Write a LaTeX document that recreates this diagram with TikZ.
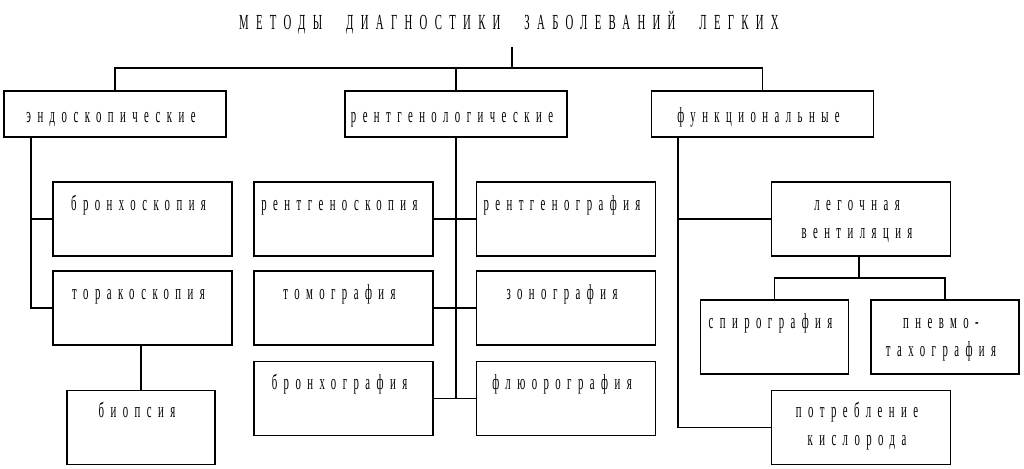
\documentclass[tikz,border=0pt]{standalone}
\usepackage{fontspec}
\newfontfamily\narrowfont{Liberation Serif}[FakeStretch=0.5,LetterSpace=30]
\newfontfamily\titlefont{Liberation Serif}[FakeStretch=0.5,LetterSpace=34,WordSpace=2.4]
\usetikzlibrary{calc}

\begin{document}
\begin{tikzpicture}[x=1pt, y=-1pt,
  box/.style={draw, line width=1.6pt, inner sep=0pt},
  wide/.style={box, minimum width=222pt, minimum height=46pt},
  cell/.style={box, minimum width=179pt, minimum height=74pt},
  small/.style={box, minimum width=148pt, minimum height=74pt},
  txt/.style={font=\narrowfont\fontsize{21.5}{28}\selectfont, inner sep=0pt, anchor=base, xshift=-4pt},
  ln/.style={line width=1.6pt},
]
  \useasboundingbox (0,0) rectangle (1024,468);
  % title
  \node[font=\titlefont\fontsize{21.5}{28}\selectfont, inner sep=0pt, anchor=base] (title) at (509,30) {МЕТОДЫ ДИАГНОСТИКИ ЗАБОЛЕВАНИЙ ЛЕГКИХ};
  % groups
  \node[wide] (endo) at (115,114) {};
  \node[wide] (rent) at (456,114) {};
  \node[wide] (func) at (762.5,114) {};
  \node[txt] (endoT) at ($(endo.center)+(0,8)$) {эндоскопические};
  \node[txt] (rentT) at ($(rent.center)+(0,8)$) {рентгенологические};
  \node[txt] (funcT) at ($(func.center)+(0,8)$) {функциональные};
  % endoscopy
  \node[cell] (bron) at (142.5,219) {};
  \node[cell] (thor) at (142.5,308) {};
  \node[small] (biop) at (141,427.5) {};
  \node[txt] (bronT) at ($(bron.north)+(0,29)$) {бронхоскопия};
  \node[txt] (thorT) at ($(thor.north)+(0,29)$) {торакоскопия};
  \node[txt] (biopT) at ($(biop.north)+(0,28)$) {биопсия};
  % roentgenology
  \node[cell] (rsc) at (343.5,219) {};
  \node[cell] (tomo) at (343.5,308) {};
  \node[cell] (bgr) at (343.5,398.5) {};
  \node[cell] (rgr) at (566,219) {};
  \node[cell] (zono) at (566,308) {};
  \node[cell] (fluo) at (566,398.5) {};
  \node[txt] (rscT) at ($(rsc.north)+(0,29)$) {рентгеноскопия};
  \node[txt] (tomoT) at ($(tomo.north)+(0,29)$) {томография};
  \node[txt] (bgrT) at ($(bgr.north)+(0,29)$) {бронхография};
  \node[txt] (rgrT) at ($(rgr.north)+(0,29)$) {рентгенография};
  \node[txt] (zonoT) at ($(zono.north)+(0,29)$) {зонография};
  \node[txt] (fluoT) at ($(fluo.north)+(0,29)$) {флюорография};
  % functional
  \node[cell] (lung) at (861,219) {};
  \node[small] (spir) at (774.5,337) {};
  \node[small] (pnev) at (945,337) {};
  \node[cell] (oxyg) at (861,427.5) {};
  \node[txt] (lungA) at ($(lung.north)+(0,29)$) {легочная};
  \node[txt] (lungB) at ($(lung.north)+(0,57)$) {вентиляция};
  \node[txt] (spirT) at ($(spir.north)+(0,29)$) {спирография};
  \node[txt] (pnevA) at ($(pnev.north)+(0,29)$) {пневмо-};
  \node[txt] (pnevB) at ($(pnev.north)+(0,57)$) {тахография};
  \node[txt] (oxygA) at ($(oxyg.north)+(0,28)$) {потребление};
  \node[txt] (oxygB) at ($(oxyg.north)+(0,56)$) {кислорода};
  % connectors
  \coordinate (top) at (512,47);
  \coordinate (bus) at (512,68);
  \draw[ln] (top) -- (bus);
  \draw[ln] (endo.north) |- (bus) -| (func.north);
  \draw[ln] (rent.north) -- (rent.north |- bus);
  \coordinate (eL) at (31,137);
  \draw[ln] (eL) |- (thor.west);
  \draw[ln] (bron.west) -- (bron.west -| eL);
  \draw[ln] (biop.north) -- (biop.north |- thor.south);
  \draw[ln] (rent.south) -- (rent.south |- bgr.east);
  \draw[ln] (rsc.east) -- (rgr.west);
  \draw[ln] (tomo.east) -- (zono.west);
  \draw[ln] (bgr.east) -- (fluo.west);
  \coordinate (fL) at (678,137);
  \draw[ln] (fL) |- (oxyg.west);
  \draw[ln] (lung.west) -- (lung.west -| fL);
  \coordinate (lbus) at (859,278);
  \draw[ln] (lbus |- lung.south) -- (lbus);
  \draw[ln] (spir.north) |- (lbus) -| (pnev.north);
\end{tikzpicture}
\end{document}
